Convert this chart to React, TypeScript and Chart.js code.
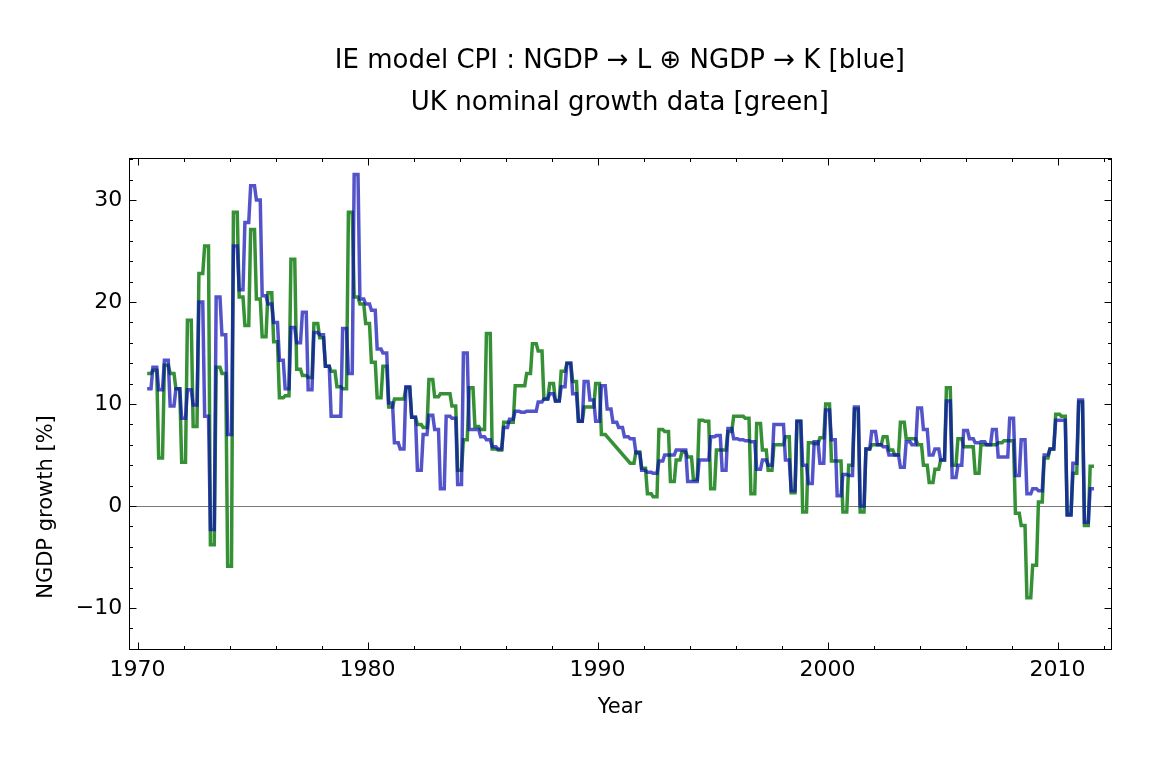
import { useEffect, useRef } from "react";
import { Chart, registerables } from "chart.js";

Chart.register(...registerables);

// quarterly NGDP growth [%], first quarter starts mid-1970
const FIRST_QUARTER = 1970 + 5 / 12;
const QUARTER = 0.25;
const HOLD = 2 / 12;

// UK nominal growth data (green); null = no data
const ukGrowth: (number | null)[] = [
  13.0, 13.3, 4.7, 13.8, 13.0, 11.5, 4.3, 18.2, 7.8, 22.8,
  25.5, -3.8, 13.6, 13.0, -5.9, 28.8, 20.5, 17.7, 27.1, 20.3,
  16.6, 20.9, 16.1, 10.6, 10.8, 24.2, 13.4, 12.8, 12.6, 17.9,
  16.5, 13.7, 13.2, 11.7, 11.5, 28.8, 20.5, 19.8, 17.9, 14.1,
  10.6, 13.7, 9.7, 10.5, 10.5, 11.6, 8.7, 8.0, 7.7, 12.4,
  10.7, 11.0, 11.0, 9.8, 3.5, 6.5, 11.6, 7.8, 7.5, 16.9,
  5.6, 5.5, 8.2, 8.2, 11.8, 11.8, 13.0, 15.9, 15.2, 10.5,
  12.0, 10.3, 13.2, 14.0, 12.2, 8.3, 9.7, 9.7, 12.0, 7.0,
  null, null, null, null, 4.2, 5.3, 3.7, 1.2, 0.9, 7.5,
  7.3, 2.4, 4.5, 5.3, 4.8, 2.6, 8.4, 8.3, 1.7, 5.5,
  5.5, 7.3, 8.8, 8.8, 8.6, 1.2, 8.1, 5.5, 3.5, 6.0,
  6.0, 6.8, 1.3, 8.3, -0.6, 6.2, 6.1, 6.7, 10.0, 4.4,
  4.4, -0.6, 4.0, 9.5, -0.6, 5.6, 6.0, 6.0, 6.8, 5.5,
  5.0, 8.2, 6.6, 6.6, 6.0, 4.0, 2.3, 3.6, 4.5, 11.6,
  4.0, 6.6, 5.8, 5.8, 3.2, 6.0, 6.0, 6.0, 6.2, 6.4,
  6.4, -0.7, -1.9, -9.0, -5.8, 0.4, 4.7, 5.6, 9.0, 8.8,
  -0.8, 3.2, 10.2, -1.9, 3.9,
];

// IE model (blue)
const modelGrowth: number[] = [
  11.5, 13.6, 11.4, 14.3, 9.8, 11.5, 8.6, 11.4, 9.9, 20.0,
  8.8, -2.3, 20.5, 16.8, 7.0, 25.5, 21.2, 27.8, 31.4, 30.0,
  20.6, 19.8, 18.0, 14.3, 11.5, 17.5, 16.0, 19.0, 11.4, 17.0,
  16.8, 13.7, 8.8, 8.8, 17.4, 13.0, 32.5, 20.3, 19.8, 19.2,
  15.4, 15.0, 10.1, 6.2, 5.6, 11.7, 8.7, 3.5, 7.0, 8.9,
  7.5, 1.7, 8.8, 8.6, 2.1, 15.0, 7.5, 7.5, 6.8, 6.5,
  5.8, 5.6, 7.7, 8.5, 9.3, 9.2, 9.3, 9.3, 10.2, 10.5,
  11.0, 10.3, 11.7, 14.0, 11.0, 8.3, 12.2, 10.4, 8.3, 11.8,
  9.5, 8.2, 7.7, 6.8, 6.6, 5.2, 3.5, 3.3, 3.2, 4.4,
  5.0, 5.0, 5.5, 5.5, 2.4, 2.4, 4.5, 4.5, 6.8, 6.9,
  3.5, 7.6, 6.6, 6.5, 6.4, 6.3, 3.6, 4.5, 4.0, 8.0,
  8.0, 4.5, 1.5, 8.3, 4.0, 2.2, 6.3, 4.2, 9.4, 6.5,
  1.0, 3.1, 3.0, 9.7, 0.0, 5.6, 7.3, 6.0, 5.8, 5.0,
  5.0, 3.8, 6.3, 6.0, 9.6, 7.5, 5.0, 5.6, 4.5, 10.3,
  2.8, 4.0, 7.4, 6.6, 6.2, 6.3, 6.0, 7.5, 4.8, 4.8,
  8.6, 3.0, 6.5, 1.2, 1.7, 1.5, 5.0, 5.6, 8.4, 8.4,
  -0.9, 4.2, 10.4, -1.6, 1.7,
];

const xTicks: number[] = [];
for (let y = 1970; y <= 2012; y += 2) xTicks.push(y);
const yTicks: number[] = [];
for (let v = -14; v <= 34; v += 2) yTicks.push(v);

const FONT = "'DejaVu Sans', sans-serif";

// each quarter's value is held for two months, then steps to the next
function toSteps(values: (number | null)[]) {
  const pts: { x: number; y: number }[] = [];
  values.forEach((v, i) => {
    if (v === null) return;
    const t = FIRST_QUARTER + i * QUARTER;
    pts.push({ x: t, y: v }, { x: t + HOLD, y: v });
  });
  return pts;
}

// snap 1px strokes to the pixel grid
const crisp = (p: number) => Math.round(p) + 0.5;

const frameTicks = {
  id: "frameTicks",
  beforeDatasetsDraw(chart: any) {
    const { ctx, chartArea: a, scales } = chart;
    const y0 = crisp(scales.y.getPixelForValue(0));
    ctx.save();
    ctx.strokeStyle = "#7a7a7a";
    ctx.lineWidth = 1;
    ctx.beginPath();
    ctx.moveTo(a.left, y0);
    ctx.lineTo(a.right, y0);
    ctx.stroke();
    ctx.restore();
  },
  afterDraw(chart: any) {
    const { ctx, chartArea: a, scales } = chart;
    const L = crisp(a.left);
    const R = crisp(a.right);
    const T = crisp(a.top);
    const B = crisp(a.bottom);
    ctx.save();
    ctx.strokeStyle = "#000";
    ctx.lineWidth = 1;
    ctx.strokeRect(L, T, R - L, B - T);
    ctx.beginPath();
    scales.x.ticks.forEach((t: any) => {
      const px = crisp(scales.x.getPixelForValue(t.value));
      const len = t.value % 10 === 0 ? 7 : 3.5;
      ctx.moveTo(px, B);
      ctx.lineTo(px, B - len);
      ctx.moveTo(px, T);
      ctx.lineTo(px, T + len);
    });
    scales.y.ticks.forEach((t: any) => {
      const py = crisp(scales.y.getPixelForValue(t.value));
      const len = t.value % 10 === 0 ? 7 : 3.5;
      ctx.moveTo(L, py);
      ctx.lineTo(L + len, py);
      ctx.moveTo(R, py);
      ctx.lineTo(R - len, py);
    });
    ctx.stroke();

    // y axis label
    ctx.fillStyle = "#000";
    ctx.font = `21px ${FONT}`;
    ctx.textAlign = "center";
    ctx.textBaseline = "middle";
    ctx.translate(47, 507);
    ctx.rotate(-Math.PI / 2);
    ctx.fillText("NGDP growth [%]", 0, 0);
    ctx.restore();
  },
};

function GrowthChart() {
  const chartRef = useRef<HTMLCanvasElement>(null);
  const chartInstance = useRef<Chart | null>(null);

  useEffect(() => {
    if (!chartRef.current) return;
    if (chartInstance.current) chartInstance.current.destroy();
    const ctx = chartRef.current.getContext("2d");
    if (!ctx) return;

    chartInstance.current = new Chart(ctx, {
      type: "line",
      data: {
        datasets: [
          {
            label: "IE model",
            data: toSteps(modelGrowth),
            borderColor: "rgba(12, 12, 180, 0.7)",
            borderWidth: 3.5,
            pointRadius: 0,
            tension: 0,
          },
          {
            label: "UK nominal growth",
            data: toSteps(ukGrowth),
            borderColor: "rgb(54, 145, 54)",
            borderWidth: 3.5,
            pointRadius: 0,
            tension: 0,
          },
        ],
      },
      options: {
        responsive: true,
        maintainAspectRatio: false,
        animation: false,
        layout: { padding: { left: 0, right: 41.5, top: 0, bottom: 0 } },
        plugins: {
          legend: { display: false },
          tooltip: { enabled: false },
          title: {
            display: true,
            fullSize: false, // centre over the plot area
            text: [
              "IE model CPI : NGDP \u2192 L \u2295 NGDP \u2192 K [blue]",
              "UK nominal growth data [green]",
            ],
            color: "#000",
            font: { family: FONT, size: 26, weight: "normal", lineHeight: 1.615 },
            padding: { top: 40, bottom: 34.5 },
          },
        },
        scales: {
          x: {
            type: "linear",
            min: 1969.64,
            max: 2012.3,
            afterBuildTicks: (axis: any) => {
              axis.ticks = xTicks.map((value) => ({ value }));
            },
            afterFit: (scale: any) => {
              scale.height = 108;
            },
            grid: { display: false, drawTicks: false },
            border: { display: false },
            ticks: {
              autoSkip: false,
              maxRotation: 0,
              padding: 8,
              color: "#000",
              font: { family: FONT, size: 22 },
              callback: (v: any) => (Number(v) % 10 === 0 ? String(v) : ""),
            },
            title: {
              display: true,
              text: "Year",
              color: "#000",
              font: { family: FONT, size: 21 },
              padding: { top: 0, bottom: 37 },
            },
          },
          y: {
            type: "linear",
            min: -14.02,
            max: 34.07,
            afterBuildTicks: (axis: any) => {
              axis.ticks = yTicks.map((value) => ({ value }));
            },
            afterFit: (scale: any) => {
              scale.width = 129.3;
            },
            grid: { display: false, drawTicks: false },
            border: { display: false },
            ticks: {
              autoSkip: false,
              padding: 7,
              color: "#000",
              font: { family: FONT, size: 22 },
              callback: (v: any) => {
                const n = Number(v);
                if (n % 10 !== 0) return "";
                return n < 0 ? "\u2212" + Math.abs(n) : String(n);
              },
            },
          },
        },
      },
      plugins: [frameTicks],
    });

    return () => {
      if (chartInstance.current) {
        chartInstance.current.destroy();
        chartInstance.current = null;
      }
    };
  }, []);

  return <canvas ref={chartRef} />;
}

export default function App() {
  return (
    <div
      style={{
        position: "fixed",
        left: 0,
        top: 0,
        width: 1152,
        height: 757,
        background: "#fff",
      }}
    >
      <GrowthChart />
    </div>
  );
}
